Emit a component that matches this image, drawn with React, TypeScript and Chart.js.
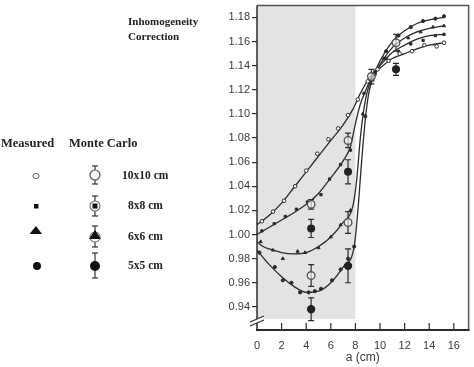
import React, { useEffect, useRef } from "react";
import { Chart, registerables } from "chart.js";

Chart.register(...registerables);

// ---------- tick labels ----------
const X_TICKS = [0, 2, 4, 6, 8, 10, 12, 14, 16];
const Y_TICKS = [0.94, 0.96, 0.98, 1.0, 1.02, 1.04, 1.06, 1.08, 1.1, 1.12, 1.14, 1.16, 1.18];

// ---------- fitted curves ----------
const CURVE_10_X = [0, 1, 2, 3, 4, 5, 6, 7, 7.8, 8.4, 9.2, 10, 11, 12, 13, 14, 15.2];
const CURVE_10_Y = [1.008, 1.016, 1.026, 1.039, 1.052, 1.065, 1.078, 1.091, 1.104, 1.117, 1.131, 1.138, 1.146, 1.15, 1.154, 1.157, 1.159];

const CURVE_8_X = [0, 1, 2, 3, 4, 5, 6, 7, 7.6, 8.0, 8.4, 8.9, 9.3, 10, 11, 12, 13, 14, 15.2];
const CURVE_8_Y = [1.0, 1.006, 1.012, 1.018, 1.025, 1.034, 1.047, 1.061, 1.073, 1.092, 1.108, 1.121, 1.13, 1.14, 1.151, 1.157, 1.162, 1.165, 1.166];

const CURVE_6_X = [0, 0.5, 1, 2, 3, 4, 5, 6, 7, 7.8, 8.1, 8.4, 8.7, 9.0, 9.4, 10, 11, 12, 13, 14, 15.2];
const CURVE_6_Y = [0.994, 0.99, 0.988, 0.985, 0.984, 0.985, 0.99, 0.998, 1.01, 1.024, 1.045, 1.08, 1.105, 1.12, 1.13, 1.141, 1.155, 1.163, 1.168, 1.171, 1.173];

const CURVE_5_X = [0, 1, 2, 3, 4, 5, 6, 7, 7.9, 8.2, 8.5, 8.8, 9.1, 9.5, 10, 11, 12, 13, 14, 15.2];
const CURVE_5_Y = [0.987, 0.975, 0.965, 0.957, 0.952, 0.953, 0.96, 0.973, 0.99, 1.02, 1.06, 1.095, 1.118, 1.132, 1.144, 1.16, 1.169, 1.175, 1.178, 1.18];

// ---------- measured points ----------
const MEAS_10_X = [0.4, 1.3, 2.2, 3.1, 4.0, 4.9, 5.8, 6.6, 7.4, 8.2, 9.0, 9.8, 10.7, 11.6, 12.6, 13.6, 14.6, 15.2];
const MEAS_10_Y = [1.011, 1.019, 1.028, 1.04, 1.053, 1.067, 1.079, 1.088, 1.099, 1.112, 1.127, 1.137, 1.144, 1.15, 1.152, 1.157, 1.156, 1.159];

const MEAS_8_X = [0.4, 1.4, 2.3, 3.2, 4.1, 5.2, 5.9, 6.8, 7.6, 8.7, 9.6, 10.5, 11.5, 12.5, 13.5, 14.5, 15.2];
const MEAS_8_Y = [1.003, 1.009, 1.015, 1.021, 1.027, 1.033, 1.046, 1.058, 1.07, 1.117, 1.133, 1.146, 1.152, 1.158, 1.161, 1.165, 1.166];

const MEAS_6_X = [0.3, 1.3, 2.1, 3.3, 3.9, 5.0, 6.0, 6.8, 7.6, 8.6, 9.4, 10.3, 11.2, 12.3, 13.3, 14.3, 15.2];
const MEAS_6_Y = [0.994, 0.987, 0.98, 0.986, 0.985, 0.989, 0.998, 1.008, 1.02, 1.1, 1.128, 1.146, 1.157, 1.163, 1.168, 1.172, 1.173];

const MEAS_5_X = [0.2, 1.45, 2.1, 2.8, 3.5, 4.2, 4.7, 5.2, 6.1, 6.8, 7.4, 7.9, 8.8, 9.6, 10.5, 11.5, 12.5, 13.5, 14.5, 15.2];
const MEAS_5_Y = [0.985, 0.973, 0.962, 0.96, 0.952, 0.952, 0.953, 0.955, 0.962, 0.971, 0.98, 0.99, 1.098, 1.135, 1.152, 1.165, 1.172, 1.177, 1.179, 1.181];

// ---------- Monte Carlo points (value ± error) ----------
const MC_10_X = [4.4, 7.4, 11.3];
const MC_10_Y = [1.025, 1.078, 1.159];
const MC_10_E = [0.004, 0.006, 0.007];

const MC_8_X = [4.4, 7.4, 11.3];
const MC_8_Y = [1.005, 1.052, 1.137];
const MC_8_E = [0.0075, 0.01, 0.005];

const MC_6_X = [4.4, 7.4, 9.3];
const MC_6_Y = [0.966, 1.01, 1.131];
const MC_6_E = [0.009, 0.009, 0.006];

const MC_5_X = [4.4, 7.4];
const MC_5_Y = [0.938, 0.974];
const MC_5_E = [0.0095, 0.014];

// lung slab (shaded) range
const SHADE_X = [0, 8];
const SHADE_Y_BOTTOM = 0.93;
const BREAK_Y = 0.93;

const TICK_FONT = "'Liberation Sans', Arial, sans-serif";
const SERIF = "'Liberation Serif', 'Times New Roman', serif";
const INK = "#2b2b2b";

const pts = (xs: number[], ys: number[]) => xs.map((x, i) => ({ x, y: ys[i] }));

const curve = (xs: number[], ys: number[]) => ({
  data: pts(xs, ys),
  showLine: true,
  borderColor: INK,
  borderWidth: 1.3,
  pointRadius: 0,
  cubicInterpolationMode: "monotone" as const,
  order: 3,
});

const measured = (xs: number[], ys: number[], style: string, fill: string, r: number) => ({
  data: pts(xs, ys),
  showLine: false,
  pointStyle: style,
  pointRadius: r,
  pointBackgroundColor: fill,
  pointBorderColor: INK,
  pointBorderWidth: 1,
  order: 2,
});

const mc = (xs: number[], ys: number[], es: number[], fill: string, border: string, r: number) => ({
  data: pts(xs, ys),
  errors: es,
  showLine: false,
  pointStyle: "circle",
  pointRadius: r,
  pointBackgroundColor: fill,
  pointBorderColor: border,
  pointBorderWidth: 1.4,
  order: 1,
});

const shadePlugin = {
  id: "shade",
  beforeDatasetsDraw(chart: any) {
    const { ctx, chartArea, scales } = chart;
    const x0 = scales.x.getPixelForValue(SHADE_X[0]);
    const x1 = scales.x.getPixelForValue(SHADE_X[1]);
    const yb = scales.y.getPixelForValue(SHADE_Y_BOTTOM);
    ctx.save();
    ctx.fillStyle = "#e3e3e3";
    ctx.fillRect(x0, chartArea.top, x1 - x0, yb - chartArea.top);
    ctx.restore();

    // error bars
    ctx.save();
    ctx.strokeStyle = INK;
    ctx.lineWidth = 1.2;
    chart.data.datasets.forEach((ds: any) => {
      if (!ds.errors) return;
      ds.data.forEach((p: any, i: number) => {
        const px = scales.x.getPixelForValue(p.x);
        const yt = scales.y.getPixelForValue(p.y + ds.errors[i]);
        const yl = scales.y.getPixelForValue(p.y - ds.errors[i]);
        ctx.beginPath();
        ctx.moveTo(px, yt);
        ctx.lineTo(px, yl);
        ctx.moveTo(px - 3, yt);
        ctx.lineTo(px + 3, yt);
        ctx.moveTo(px - 3, yl);
        ctx.lineTo(px + 3, yl);
        ctx.stroke();
      });
    });
    ctx.restore();
  },
};

const framePlugin = {
  id: "frame",
  afterDraw(chart: any) {
    const { ctx, chartArea, scales } = chart;
    const { left, right, top, bottom } = chartArea;
    ctx.save();
    // top + right border
    ctx.strokeStyle = "#555";
    ctx.lineWidth = 1.5;
    ctx.beginPath();
    ctx.moveTo(left, top);
    ctx.lineTo(right, top);
    ctx.lineTo(right, bottom);
    ctx.stroke();
    // y axis
    ctx.strokeStyle = INK;
    ctx.lineWidth = 1.5;
    ctx.beginPath();
    ctx.moveTo(left, top);
    ctx.lineTo(left, bottom);
    ctx.stroke();
    // x axis (thick)
    ctx.lineWidth = 2.2;
    ctx.beginPath();
    ctx.moveTo(left - 1, bottom);
    ctx.lineTo(right + 1, bottom);
    ctx.stroke();
    // inward x ticks
    ctx.lineWidth = 1.2;
    X_TICKS.forEach((v) => {
      if (v === 0) return;
      const px = scales.x.getPixelForValue(v);
      ctx.beginPath();
      ctx.moveTo(px, bottom);
      ctx.lineTo(px, bottom - 7);
      ctx.stroke();
    });
    // axis break
    const by = scales.y.getPixelForValue(BREAK_Y);
    ctx.fillStyle = "#ffffff";
    ctx.beginPath();
    ctx.moveTo(left - 7, by + 3);
    ctx.lineTo(left + 7, by - 3);
    ctx.lineTo(left + 7, by + 1);
    ctx.lineTo(left - 7, by + 7);
    ctx.closePath();
    ctx.fill();
    ctx.lineWidth = 1.1;
    ctx.beginPath();
    ctx.moveTo(left - 7, by + 3);
    ctx.lineTo(left + 7, by - 3);
    ctx.moveTo(left - 7, by + 7);
    ctx.lineTo(left + 7, by + 1);
    ctx.stroke();
    ctx.restore();
  },
};

function LegendSymbols() {
  const stroke = "#333";
  const bar = (cx: number, y1: number, y2: number) => (
    <g stroke={stroke} strokeWidth={1.2}>
      <line x1={cx} y1={y1} x2={cx} y2={y2} />
      <line x1={cx - 3} y1={y1} x2={cx + 3} y2={y1} />
      <line x1={cx - 3} y1={y2} x2={cx + 3} y2={y2} />
    </g>
  );
  return (
    <svg width={120} height={300} style={{ position: "absolute", left: 0, top: 0 }}>
      {/* measured */}
      <ellipse cx={36} cy={176} rx={3.2} ry={2.6} fill="#fff" stroke="#666" strokeWidth={1} />
      <rect x={34} y={204} width={4.5} height={4.5} fill="#111" />
      <polygon points="29.5,234 42,234 36,226" fill="#111" />
      <circle cx={37} cy={266} r={4} fill="#111" />
      {/* Monte Carlo */}
      {bar(95, 166, 184)}
      <circle cx={95} cy={175} r={5} fill="#fff" stroke="#555" strokeWidth={1.2} />
      {bar(95, 196, 216)}
      <circle cx={95} cy={206} r={5} fill="#fff" stroke="#666" strokeWidth={1.1} />
      <rect x={92.5} y={203.5} width={5} height={5} fill="#111" />
      {bar(95, 226, 247)}
      <circle cx={95} cy={237} r={5} fill="#fff" stroke="#777" strokeWidth={1.1} />
      <polygon points="89,239 101,239 95,230" fill="#111" />
      {bar(95, 253, 278)}
      <circle cx={95} cy={266} r={5} fill="#111" />
    </svg>
  );
}

export default function App() {
  const ref = useRef<HTMLCanvasElement | null>(null);

  useEffect(() => {
    if (!ref.current) return;
    const chart = new Chart(ref.current, {
      type: "scatter",
      data: {
        datasets: [
          curve(CURVE_10_X, CURVE_10_Y),
          curve(CURVE_8_X, CURVE_8_Y),
          curve(CURVE_6_X, CURVE_6_Y),
          curve(CURVE_5_X, CURVE_5_Y),
          measured(MEAS_10_X, MEAS_10_Y, "circle", "#ffffff", 1.8),
          measured(MEAS_8_X, MEAS_8_Y, "rect", INK, 1.6),
          measured(MEAS_6_X, MEAS_6_Y, "triangle", INK, 1.8),
          measured(MEAS_5_X, MEAS_5_Y, "circle", INK, 1.6),
          mc(MC_10_X, MC_10_Y, MC_10_E, "rgba(255,255,255,0.6)", "#555", 3.8),
          mc(MC_8_X, MC_8_Y, MC_8_E, "#222", "#222", 3.3),
          mc(MC_6_X, MC_6_Y, MC_6_E, "rgba(255,255,255,0.6)", "#555", 3.8),
          mc(MC_5_X, MC_5_Y, MC_5_E, "#222", "#222", 3.5),
        ] as any,
      },
      options: {
        animation: false,
        responsive: false,
        devicePixelRatio: 1,
        events: [],
        layout: { padding: { left: 200, right: 4, top: 3, bottom: 0 } },
        plugins: { legend: { display: false }, tooltip: { enabled: false } },
        scales: {
          x: {
            type: "linear",
            min: 0,
            max: 17.2,
            afterBuildTicks: (s: any) => {
              s.ticks = X_TICKS.map((v) => ({ value: v }));
            },
            afterFit: (s: any) => {
              s.height = 37;
              s.paddingLeft = 0;
              s.paddingRight = 0;
            },
            grid: { display: false, drawTicks: false },
            border: { display: false },
            ticks: {
              font: { family: TICK_FONT, size: 11 },
              color: "#3a3a3a",
              padding: 9,
              maxRotation: 0,
              autoSkip: false,
              callback: (v: any) => String(v),
            },
            title: {
              display: true,
              text: "a (cm)",
              font: { family: TICK_FONT, size: 12 },
              color: "#3a3a3a",
              padding: { top: 0, bottom: 2 },
            },
          },
          y: {
            type: "linear",
            min: 0.9208,
            max: 1.19,
            afterBuildTicks: (s: any) => {
              s.ticks = Y_TICKS.map((v) => ({ value: v }));
            },
            afterFit: (s: any) => {
              s.width = 57;
              s.paddingTop = 0;
              s.paddingBottom = 0;
            },
            grid: { drawOnChartArea: false, tickLength: 5, color: INK, lineWidth: 1.2 },
            border: { display: false },
            ticks: {
              font: { family: TICK_FONT, size: 11 },
              color: "#3a3a3a",
              padding: 2,
              autoSkip: false,
              callback: (v: any) => Number(v).toFixed(2),
            },
          },
        },
      } as any,
      plugins: [shadePlugin, framePlugin],
    });
    return () => chart.destroy();
  }, []);

  const head: React.CSSProperties = {
    position: "absolute",
    fontFamily: SERIF,
    fontWeight: "bold",
    color: "#222",
    whiteSpace: "nowrap",
    lineHeight: 1,
  };

  return (
    <div style={{ position: "fixed", left: 0, top: 0, width: 474, height: 367, background: "#fff", overflow: "hidden" }}>
      <canvas ref={ref} width={474} height={367} style={{ position: "absolute", left: 0, top: 0, width: 474, height: 367 }} />
      <div style={{ ...head, left: 128, top: 16, fontSize: 11 }}>Inhomogeneity</div>
      <div style={{ ...head, left: 128, top: 31, fontSize: 11 }}>Correction</div>
      <div style={{ ...head, left: 1, top: 137, fontSize: 12.5 }}>Measured</div>
      <div style={{ ...head, left: 69, top: 137, fontSize: 12.5 }}>Monte Carlo</div>
      <LegendSymbols />
      <div style={{ ...head, left: 122, top: 170, fontSize: 11.5 }}>10x10 cm</div>
      <div style={{ ...head, left: 128, top: 200, fontSize: 11.5 }}>8x8 cm</div>
      <div style={{ ...head, left: 128, top: 231, fontSize: 11.5 }}>6x6 cm</div>
      <div style={{ ...head, left: 128, top: 260, fontSize: 11.5 }}>5x5 cm</div>
    </div>
  );
}
